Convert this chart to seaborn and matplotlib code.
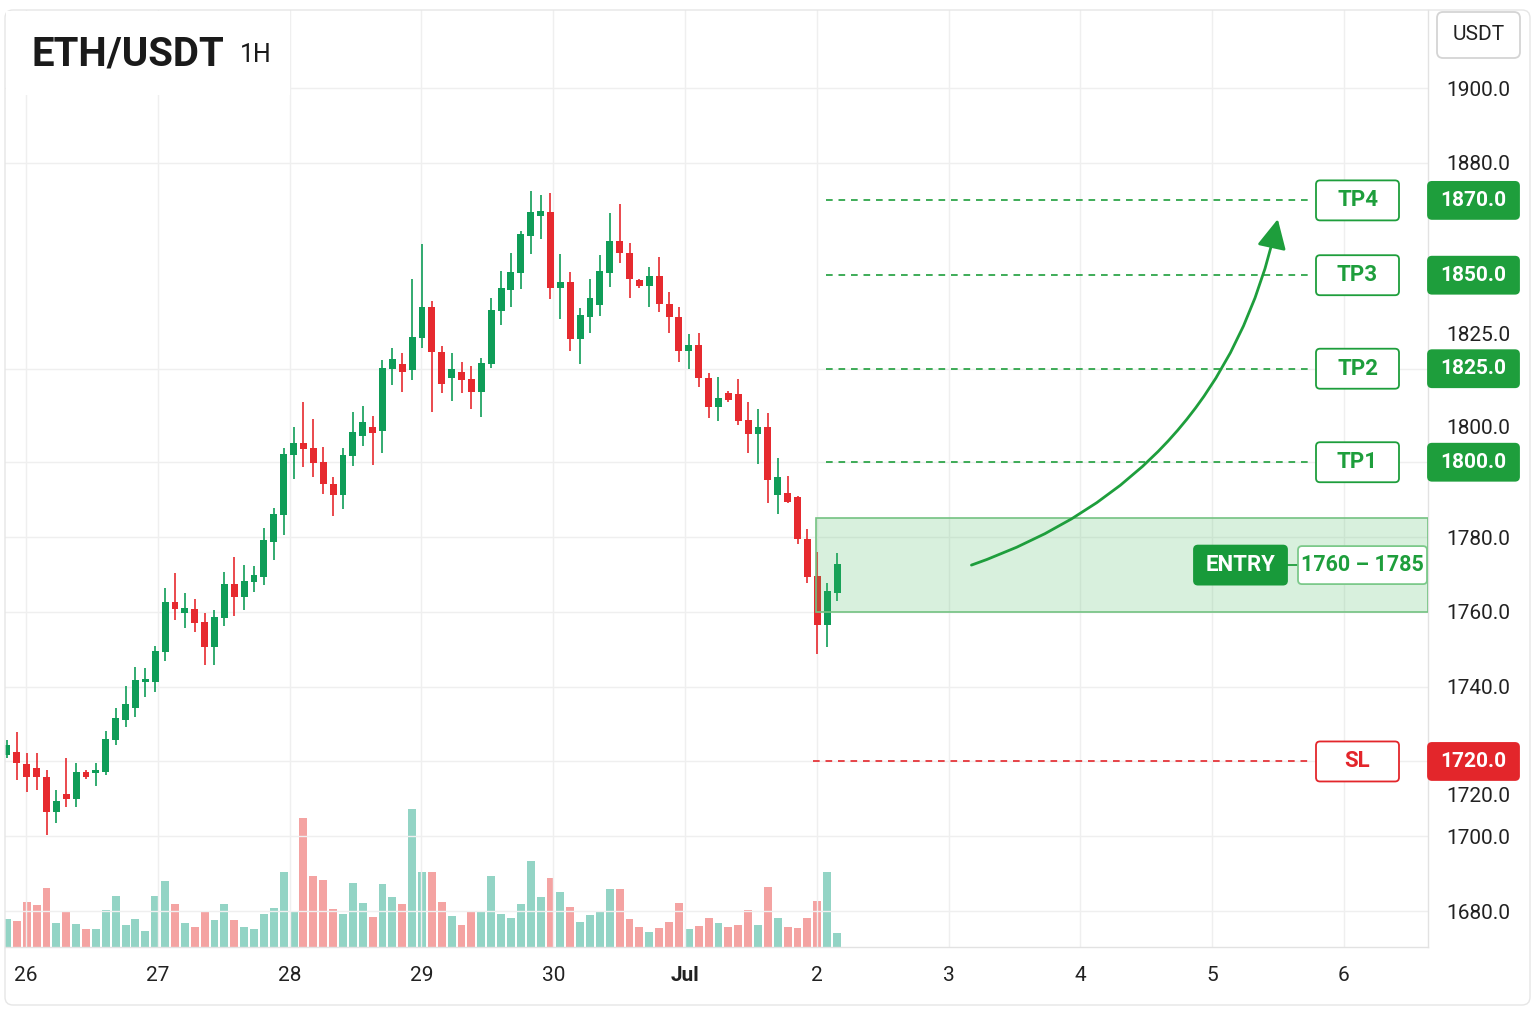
import matplotlib
matplotlib.use("Agg")
import matplotlib.pyplot as plt
from matplotlib.patches import FancyBboxPatch, Rectangle
from matplotlib.lines import Line2D
from matplotlib.transforms import IdentityTransform, ScaledTranslation
import numpy as np
import pandas as pd
import seaborn as sns

# ---- data ----
opens = [1721.7, 1722.5, 1719.3, 1718.2, 1715.8, 1706.5, 1711.3, 1709.9, 1717.2, 1716.9,
         1717.2, 1725.7, 1731.1, 1734.3, 1741.2, 1741.2, 1749.3, 1762.6, 1759.7, 1760.7,
         1757.3, 1750.6, 1758.3, 1767.4, 1764.0, 1768.0, 1769.3, 1778.7, 1785.9, 1801.9,
         1805.1, 1803.8, 1800.1, 1794.2, 1791.2, 1801.7, 1807.0, 1809.4, 1808.3, 1824.9,
         1826.3, 1824.7, 1833.2, 1841.5, 1829.5, 1822.5, 1824.1, 1822.2, 1818.8, 1826.3,
         1840.4, 1846.0, 1850.6, 1860.5, 1865.8, 1866.9, 1846.6, 1848.2, 1832.9, 1838.8,
         1842.0, 1850.6, 1859.1, 1855.9, 1848.7, 1847.1, 1849.8, 1842.3, 1838.8, 1829.7,
         1831.3, 1822.5, 1814.8, 1818.5, 1818.2, 1811.3, 1807.5, 1809.4, 1791.2, 1791.8,
         1790.7, 1779.5, 1769.6, 1756.5, 1765.0]
highs = [1725.7, 1727.9, 1722.2, 1722.2, 1717.7, 1712.4, 1720.9, 1719.6, 1717.7, 1719.6,
         1728.1, 1734.3, 1740.2, 1745.2, 1745.0, 1750.9, 1766.4, 1770.4, 1765.0, 1763.4,
         1759.7, 1760.5, 1770.6, 1774.7, 1772.5, 1772.2, 1782.4, 1787.8, 1803.8, 1809.4,
         1816.1, 1811.6, 1804.1, 1796.0, 1803.8, 1813.4, 1815.0, 1812.4, 1827.3, 1830.5,
         1829.2, 1849.0, 1858.3, 1843.1, 1831.1, 1829.2, 1826.8, 1825.7, 1827.9, 1843.9,
         1851.1, 1855.9, 1861.8, 1872.5, 1871.4, 1872.0, 1855.7, 1850.9, 1841.2, 1849.0,
         1855.4, 1866.6, 1869.0, 1858.6, 1849.0, 1852.2, 1854.9, 1845.5, 1841.5, 1834.3,
         1834.5, 1823.9, 1822.8, 1819.0, 1822.2, 1816.1, 1814.2, 1813.2, 1801.1, 1796.3,
         1790.9, 1782.1, 1776.0, 1767.7, 1775.7]
lows = [1720.9, 1715.0, 1711.8, 1712.4, 1700.3, 1703.5, 1707.8, 1707.8, 1715.3, 1713.4,
        1716.4, 1724.4, 1729.2, 1731.9, 1737.2, 1738.6, 1746.8, 1757.8, 1755.7, 1754.6,
        1745.8, 1745.8, 1756.2, 1758.9, 1760.5, 1765.3, 1767.2, 1773.9, 1780.5, 1795.5,
        1798.7, 1796.0, 1791.5, 1785.6, 1787.5, 1799.0, 1804.3, 1799.3, 1802.5, 1820.6,
        1818.8, 1822.0, 1830.5, 1813.4, 1818.5, 1816.4, 1818.5, 1814.2, 1812.1, 1825.2,
        1836.7, 1841.5, 1846.3, 1855.7, 1859.7, 1843.6, 1838.3, 1829.7, 1826.3, 1834.5,
        1839.1, 1846.8, 1853.3, 1843.9, 1846.6, 1841.5, 1840.2, 1834.5, 1826.8, 1824.9,
        1820.1, 1811.8, 1811.0, 1816.1, 1809.9, 1802.5, 1799.5, 1789.1, 1786.2, 1789.1,
        1778.1, 1767.7, 1748.7, 1750.6, 1762.9]
closes = [1724.4, 1719.6, 1715.8, 1715.8, 1706.5, 1709.4, 1709.9, 1717.2, 1715.8, 1717.4,
          1726.0, 1731.6, 1735.3, 1741.8, 1742.0, 1749.5, 1762.6, 1760.7, 1761.0, 1757.0,
          1750.6, 1758.6, 1767.4, 1764.0, 1768.2, 1769.8, 1779.2, 1786.2, 1802.2, 1805.1,
          1803.5, 1799.8, 1794.2, 1791.2, 1801.9, 1808.1, 1810.7, 1807.8, 1825.2, 1827.6,
          1824.1, 1833.5, 1841.5, 1829.5, 1820.9, 1824.9, 1822.0, 1818.8, 1826.5, 1840.7,
          1846.6, 1850.9, 1861.0, 1866.9, 1867.2, 1846.6, 1848.2, 1832.9, 1839.4, 1843.9,
          1851.1, 1859.1, 1855.9, 1849.0, 1847.1, 1849.8, 1842.3, 1838.8, 1829.7, 1831.3,
          1822.5, 1814.8, 1817.2, 1816.6, 1811.0, 1807.5, 1809.4, 1795.2, 1796.0, 1789.4,
          1779.5, 1769.3, 1756.5, 1765.6, 1772.8]
volumes = [2.8, 2.6, 4.5, 4.2, 5.9, 2.4, 3.6, 2.3, 1.8, 1.8,
           3.7, 5.1, 2.2, 2.8, 1.6, 5.1, 6.6, 4.3, 2.4, 2.0,
           3.6, 2.7, 4.3, 2.7, 2.0, 1.8, 3.3, 3.9, 7.5, 3.6,
           12.9, 7.1, 6.7, 3.8, 3.3, 6.4, 4.4, 3.0, 6.3, 5.0,
           4.3, 13.8, 7.5, 7.5, 4.5, 3.1, 2.2, 3.5, 3.6, 7.1,
           3.3, 2.9, 4.3, 8.6, 5.0, 6.9, 5.5, 4.0, 2.5, 3.2,
           3.6, 5.8, 5.8, 2.8, 2.0, 1.5, 1.9, 2.5, 4.4, 1.8,
           2.1, 2.9, 2.4, 2.0, 2.2, 3.7, 2.2, 6.0, 2.9, 2.0,
           1.9, 2.9, 4.6, 7.5, 1.4]

tp_names = ["TP1", "TP2", "TP3", "TP4"]
tp_levels = [1800, 1825, 1850, 1870]
sl_level = 1720
entry_low, entry_high = 1760, 1785
price_ticks = [1680, 1700, 1720, 1740, 1760, 1780, 1800, 1825, 1880, 1900]

# ---- colours ----
GREEN = "#0f9d58"
RED = "#e62a2f"
VOL_GREEN = "#93d4c5"
VOL_RED = "#f4a3a2"
TP_GREEN = "#1e9e3c"
SL_RED = "#e3262b"
TXT = "#222222"

times = pd.date_range("2024-06-25 20:30", periods=len(opens), freq="108min")
step = times[1] - times[0]
x = np.arange(len(opens))
days = pd.date_range("2024-06-26", "2024-07-06", freq="D")
day_pos = np.asarray((days - times[0]) / step)
day_labels = ["Jul" if d.day == 1 else str(d.day) for d in days]

o = np.array(opens)
c = np.array(closes)
up = c >= o

sns.set_theme(style="white")
plt.rcParams["font.family"] = ["Roboto", "DejaVu Sans"]

W, H = 1536, 1024
fig = plt.figure(figsize=(W / 100, H / 100), dpi=100)
fig.patch.set_facecolor("white")

rect = [5 / W, 1 - 947 / H, 1423 / W, 937 / H]
ax_v = fig.add_axes(rect)
ax = fig.add_axes(rect, sharex=ax_v)
ax.patch.set_visible(False)

# volume bars (seaborn)
vol_df = pd.DataFrame({"x": x, "volume": volumes, "dir": np.where(up, "up", "down")})
sns.barplot(data=vol_df, x="x", y="volume", hue="dir",
            palette={"up": VOL_GREEN, "down": VOL_RED},
            native_scale=True, dodge=False, width=0.8, errorbar=None,
            legend=False, saturation=1, linewidth=0, ax=ax_v)
ax_v.set_ylim(0, 93.7)
ax_v.axis("off")

# candles
colors = np.where(up, GREEN, RED)
ax.vlines(x, lows, highs, colors=colors, linewidth=1.2, zorder=3)
body_low = np.minimum(o, c)
body_h = np.maximum(np.abs(c - o), 0.7)
ax.bar(x, body_h, bottom=body_low, width=0.7, color=colors, linewidth=0, zorder=4)

ax.set_xlim(-0.2, 143.8)
ax.set_ylim(1670.4, 1920.9)

# axes styling
ax.yaxis.tick_right()
ax.set_yticks(price_ticks)
ax.set_yticklabels([f"{p:.1f}" for p in price_ticks])
ax.tick_params(axis="y", length=0, pad=13, labelsize=15, labelcolor=TXT)
ax.set_xticks(day_pos)
ax.set_xticklabels(day_labels)
ax.tick_params(axis="x", length=0, pad=14, labelsize=15, labelcolor=TXT)
for lab in ax.get_xticklabels():
    if lab.get_text() == "Jul":
        lab.set_fontweight("bold")
ax.grid(True, color="#efefef", linewidth=1)
for side in ["top", "left"]:
    ax.spines[side].set_visible(False)
for side in ["right", "bottom"]:
    ax.spines[side].set_color("#e2e2e2")
    ax.spines[side].set_linewidth(1)
ax.set_xlabel("")
ax.set_ylabel("")

# price labels that sit under a level box are nudged next to it (in pixels)
nudge = {1825: 35, 1800: 36, 1720: -33}
for val, tick in zip(price_ticks, ax.yaxis.get_major_ticks()):
    if val in nudge:
        tick.label2.set_transform(tick.label2.get_transform() +
                                  ScaledTranslation(0, nudge[val] / 100, fig.dpi_scale_trans))

# target / stop lines
dash = (0, (4, 3.5))
for lvl in tp_levels:
    ax.axhline(lvl, xmin=0.577, xmax=0.919, color=TP_GREEN, lw=1.2, ls=dash, zorder=2)
ax.axhline(sl_level, xmin=0.568, xmax=0.919, color=SL_RED, lw=1.2, ls=dash, zorder=2)

# entry zone
ax.axhspan(entry_low, entry_high, xmin=0.570, xmax=1.0,
           facecolor=(0.25, 0.72, 0.35, 0.2), edgecolor="#74c282", lw=1.2, zorder=5)

# curved arrow
ax.annotate("", xy=(128.6, 1865), xytext=(97.6, (entry_low + entry_high) / 2),
            arrowprops=dict(arrowstyle="-|>,head_length=0.9,head_width=0.45",
                            color=TP_GREEN, lw=2, mutation_scale=20,
                            connectionstyle="arc3,rad=0.28", shrinkA=0, shrinkB=0),
            zorder=6)


def py(price):
    return ax.transData.transform((0, price))[1]


def pix_box(x0, yc, w, h, fc, ec, text, tc, size=15, weight="bold", r=4):
    box = FancyBboxPatch((x0, yc - h / 2), w, h,
                         boxstyle=f"round,pad=0,rounding_size={r}",
                         fc=fc, ec=ec, lw=1.3, transform=IdentityTransform(), zorder=10)
    fig.add_artist(box)
    fig.text(x0 + w / 2, yc, text, transform=IdentityTransform(), ha="center",
             va="center", color=tc, fontsize=size, fontweight=weight, zorder=11)


for name, lvl in zip(tp_names, tp_levels):
    yc = py(lvl)
    pix_box(1316, yc, 83, 40, "white", TP_GREEN, name, TP_GREEN, size=16)
    pix_box(1428, yc, 91, 37, TP_GREEN, TP_GREEN, f"{lvl:.1f}", "white", size=15)

yc = py(sl_level)
pix_box(1316, yc, 83, 40, "white", SL_RED, "SL", SL_RED, size=16)
pix_box(1428, yc, 91, 37, SL_RED, SL_RED, f"{sl_level:.1f}", "white", size=15)

yc = py((entry_low + entry_high) / 2)
fig.add_artist(Line2D([1287, 1298], [yc, yc], color=TP_GREEN, lw=1.3,
                      transform=IdentityTransform(), zorder=9))
pix_box(1194, yc, 93, 39, "#189a3a", "#189a3a", "ENTRY", "white", size=16)
pix_box(1298, yc, 129, 38, "white", "#7cc98a", f"{entry_low} \u2013 {entry_high}", TP_GREEN, size=15.5)

# title area, currency box and panel frame
fig.add_artist(Rectangle((6, H - 95), 284, 84, fc="white", ec="none",
                         transform=IdentityTransform(), zorder=5))
fig.text(32, H - 55, "ETH/USDT", transform=IdentityTransform(), fontsize=29,
         fontweight="bold", color="#1a1a1a", va="center", ha="left", zorder=12)
fig.text(240, H - 55, "1H", transform=IdentityTransform(), fontsize=18,
         color="#1a1a1a", va="center", ha="left", zorder=12)
pix_box(1437, H - 35, 83, 46, "white", "#d4d4d4", "USDT", TXT, size=15, weight="normal", r=6)
fig.add_artist(FancyBboxPatch((5, H - 1005), 1525, 995,
                              boxstyle="round,pad=0,rounding_size=8",
                              fc="none", ec="#e6e6e6", lw=1,
                              transform=IdentityTransform(), zorder=1))

fig.savefig("out.png", dpi=100, facecolor="white")
